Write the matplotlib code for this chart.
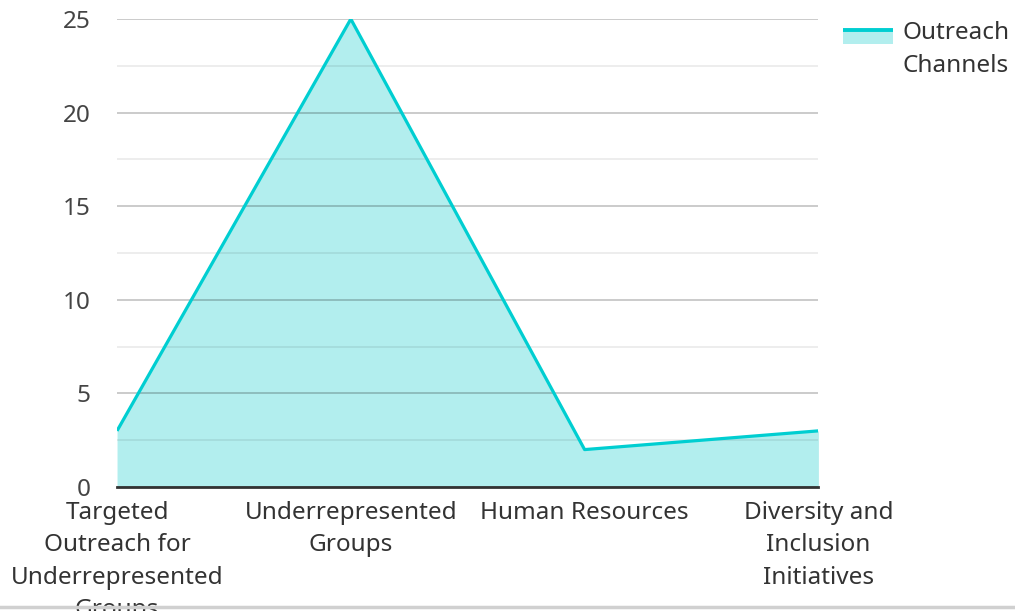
import matplotlib
matplotlib.use("Agg")
import matplotlib.pyplot as plt
from matplotlib.lines import Line2D
from matplotlib.patches import Rectangle
from matplotlib.ticker import MultipleLocator

plt.rcParams["font.family"] = ["Noto Sans", "DejaVu Sans"]

# ---------- data ----------
categories = ["Targeted\nOutreach for\nUnderrepresented\nGroups",
              "Underrepresented\nGroups",
              "Human Resources",
              "Diversity and\nInclusion\nInitiatives"]
values = [3, 25, 2, 3]
series_name = "Outreach\nChannels"

LINE = "#00CED1"
FILL = "#B2EEEE"
FS = 17.5

fig = plt.figure(figsize=(10.15, 6.11), dpi=100)
ax = fig.add_axes([0.1153, 0.2029, 0.6910, 0.7660])

x = list(range(len(categories)))
ax.fill_between(x, values, 0, color=FILL, lw=0, zorder=1)
ax.plot(x, values, color=LINE, lw=2.3, zorder=4, solid_capstyle="butt")

ax.set_xlim(0, len(categories) - 1)
ax.set_ylim(0, 25)
ax.yaxis.set_major_locator(MultipleLocator(5))
ax.yaxis.set_minor_locator(MultipleLocator(2.5))
ax.grid(which="major", axis="y", color="#000000", alpha=0.22, lw=1.3, zorder=2)
ax.grid(which="minor", axis="y", color="#000000", alpha=0.08, lw=1.3, zorder=2)
ax.set_axisbelow(False)

for s in ["top", "right", "left"]:
    ax.spines[s].set_visible(False)
ax.spines["bottom"].set_color("#333333")
ax.spines["bottom"].set_linewidth(2)
ax.spines["bottom"].set_zorder(5)

ax.set_xticks(x)
ax.set_xticklabels(categories, fontsize=FS, color="#333333", linespacing=1.47)
ax.tick_params(axis="x", length=0, pad=10)
ax.tick_params(axis="y", which="both", length=0, pad=19, labelsize=FS,
               labelcolor="#444444")

# ---------- legend (line on top of filled swatch) ----------
fig.add_artist(Rectangle((0.8305, 0.928), 0.0495, 0.023, transform=fig.transFigure,
                         facecolor=FILL, edgecolor="none"))
fig.add_artist(Line2D([0.8305, 0.880], [0.9505, 0.9505], color=LINE, lw=2.8,
                      transform=fig.transFigure, solid_capstyle="butt"))
fig.text(0.8895, 0.966, series_name, fontsize=FS, color="#333333",
         va="top", ha="left", linespacing=1.5)

fig.add_artist(Line2D([0, 1], [0.006, 0.006], color="#d0d0d0", lw=2.5,
                      transform=fig.transFigure))

fig.savefig("out.png", dpi=100)
